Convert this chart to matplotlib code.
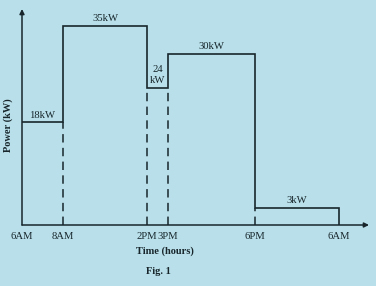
import matplotlib
matplotlib.use("Agg")
import matplotlib.pyplot as plt

# Schematic time positions (figure is not drawn to scale)
tick_labels = ["6AM", "8AM", "2PM", "3PM", "6PM", "6AM"]
tick_pos = [0.0, 2.0, 6.1, 7.12, 11.37, 15.46]
power_kw = [18, 35, 24, 30, 3]
power_labels = ["18kW", "35kW", "24\nkW", "30kW", "3kW"]

bg = "#b9e0ea"
ink = "#18262c"
plt.rcParams["font.family"] = ["Liberation Serif", "DejaVu Serif"]

fig = plt.figure(figsize=(3.76, 2.86), dpi=100, facecolor=bg)
ax = fig.add_axes([22 / 376, (286 - 225) / 286, (369 - 22) / 376, (225 - 9) / 286])
ax.set_facecolor(bg)
xmax = 16.93
ymax = 37.9
ax.set_xlim(0, xmax)
ax.set_ylim(0, ymax)
for s in ax.spines.values():
    s.set_visible(False)

# Axes arrows
ax.annotate("", xy=(0, ymax), xytext=(0, 0),
            arrowprops=dict(arrowstyle="-|>", color=ink, lw=1.1,
                            mutation_scale=7, shrinkA=0, shrinkB=0))
ax.annotate("", xy=(xmax, 0), xytext=(0, 0),
            arrowprops=dict(arrowstyle="-|>", color=ink, lw=1.1,
                            mutation_scale=7, shrinkA=0, shrinkB=0))

# Step profile
xs, ys = [], []
for i, p in enumerate(power_kw):
    xs += [tick_pos[i], tick_pos[i + 1]]
    ys += [p, p]
xs.append(tick_pos[-1])
ys.append(0)
ax.plot(xs, ys, color=ink, lw=1.2, solid_joinstyle="miter")

# Dashed verticals at interior breakpoints
for i in range(1, len(tick_pos) - 1):
    top = min(power_kw[i - 1], power_kw[i])
    ax.plot([tick_pos[i], tick_pos[i]], [0, top], color=ink, lw=1.1,
            ls=(0, (5.5, 3.5)))

# Power labels
for i, (p, lab) in enumerate(zip(power_kw, power_labels)):
    xc = (tick_pos[i] + tick_pos[i + 1]) / 2
    if "\n" in lab:
        ax.text(xc, p + 0.6, lab, ha="center", va="bottom", fontsize=7.7,
                color=ink, linespacing=1.2)
    else:
        ax.text(xc, p + 0.5, lab, ha="center", va="bottom", fontsize=7.7,
                color=ink)

ax.set_xticks(tick_pos, tick_labels, fontsize=7.7, color=ink)
ax.tick_params(axis="x", length=0, pad=5)
ax.set_yticks([])

fig.text(165 / 376, 1 - 251 / 286, "Time (hours)", ha="center", va="center",
         fontsize=7.5, fontweight="bold", color=ink)
fig.text(158 / 376, 1 - 272 / 286, "Fig. 1", ha="center", va="center",
         fontsize=7.5, fontweight="bold", color=ink)
fig.text(8 / 376, 1 - 125 / 286, "Power (kW)", ha="center", va="center",
         rotation=90, fontsize=7.5, fontweight="bold", color=ink)

fig.savefig("out.png", dpi=100, facecolor=bg)
